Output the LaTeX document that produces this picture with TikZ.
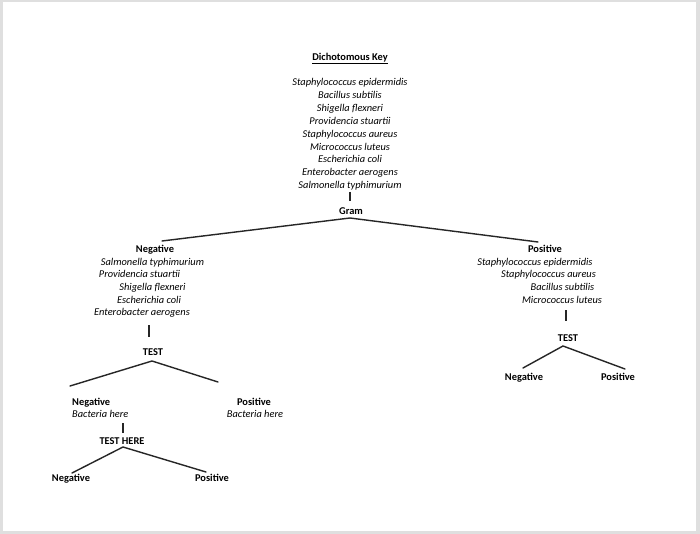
\documentclass[tikz,border=0pt]{standalone}
\usepackage{fontspec}
\setmainfont{Carlito}
\begin{document}
\begin{tikzpicture}[x=1pt,y=-1pt,
  lbl/.style={inner sep=0pt, anchor=base, font=\fontsize{10.4}{12.8}\selectfont},
  bld/.style={lbl, font=\fontsize{10.4}{12.8}\selectfont\bfseries},
  itl/.style={lbl, font=\fontsize{10.4}{12.8}\selectfont\itshape},
  branch/.style={line width=1.4pt, line cap=round, black!85},
  tick/.style={line width=1.6pt, black!85}]
\useasboundingbox (0,0) rectangle (700,534);
\fill[gray!25] (0,0) rectangle (700,534);
\fill[white] (3,2) rectangle (696,531);
% title and full list
\node[bld] (title) at (350,60.5) {\underline{Dichotomous Key}};
\foreach \t [count=\i from 0] in {Staphylococcus epidermidis, Bacillus subtilis, Shigella flexneri, Providencia stuartii, Staphylococcus aureus, Micrococcus luteus, Escherichia coli, Enterobacter aerogens, Salmonella typhimurium}
  \node[itl] (top\i) at (350,{86+12.83*\i}) {\t};
\coordinate (gramtickA) at (350,192);
\coordinate (gramtickB) at (350,201.5);
\draw[tick] (gramtickA) -- (gramtickB);
\node[bld] (gram) at (351,214.3) {Gram};
\coordinate (gramapex) at (350,218);
\coordinate (gramL) at (162,241);
\coordinate (gramR) at (538,242);
\draw[branch] (gramL) -- (gramapex) -- (gramR);
% left branch
\node[bld] (neg1) at (155,252.3) {Negative};
\node[itl] (l1) at (152.5,265.5) {Salmonella typhimurium};
\node[itl] (l2) at (139.5,277.5) {Providencia stuartii};
\node[itl] (l3) at (152.5,290.9) {Shigella flexneri};
\node[itl] (l4) at (149,303.2) {Escherichia coli};
\node[itl] (l5) at (142,315.9) {Enterobacter aerogens};
\coordinate (ltickA) at (149,325);
\coordinate (ltickB) at (149,337);
\draw[tick] (ltickA) -- (ltickB);
\node[bld] (test1) at (153,355.3) {TEST};
\coordinate (t1apex) at (152,361);
\coordinate (t1L) at (70,386);
\coordinate (t1R) at (218,382);
\draw[branch] (t1L) -- (t1apex) -- (t1R);
\node[bld, anchor=base west] (neg2) at (72,405.3) {Negative};
\node[itl, anchor=base west] (bact1) at (72,417.3) {Bacteria here};
\node[bld] (pos2) at (254,405.3) {Positive};
\node[itl] (bact2) at (255,417.3) {Bacteria here};
\coordinate (btickA) at (123,423);
\coordinate (btickB) at (123,433);
\draw[tick] (btickA) -- (btickB);
\node[bld] (test2) at (122,444.3) {TEST HERE};
\coordinate (t2apex) at (123,447);
\coordinate (t2L) at (72,473);
\coordinate (t2R) at (206,472);
\draw[branch] (t2L) -- (t2apex) -- (t2R);
\node[bld] (neg3) at (71,481.3) {Negative};
\node[bld] (pos3) at (212,481.3) {Positive};
% right branch
\node[bld] (pos1) at (545,252.3) {Positive};
\node[itl] (r1) at (535,265.5) {Staphylococcus epidermidis};
\node[itl] (r2) at (548.5,277.5) {Staphylococcus aureus};
\node[itl] (r3) at (562.5,290.9) {Bacillus subtilis};
\node[itl] (r4) at (562,303.2) {Micrococcus luteus};
\coordinate (rtickA) at (566,310);
\coordinate (rtickB) at (566,321);
\draw[tick] (rtickA) -- (rtickB);
\node[bld] (test3) at (568,341.3) {TEST};
\coordinate (t3apex) at (563,346);
\coordinate (t3L) at (523,368);
\coordinate (t3R) at (625,369);
\draw[branch] (t3L) -- (t3apex) -- (t3R);
\node[bld] (neg4) at (524,380.3) {Negative};
\node[bld] (pos4) at (618,380.3) {Positive};
\end{tikzpicture}
\end{document}
